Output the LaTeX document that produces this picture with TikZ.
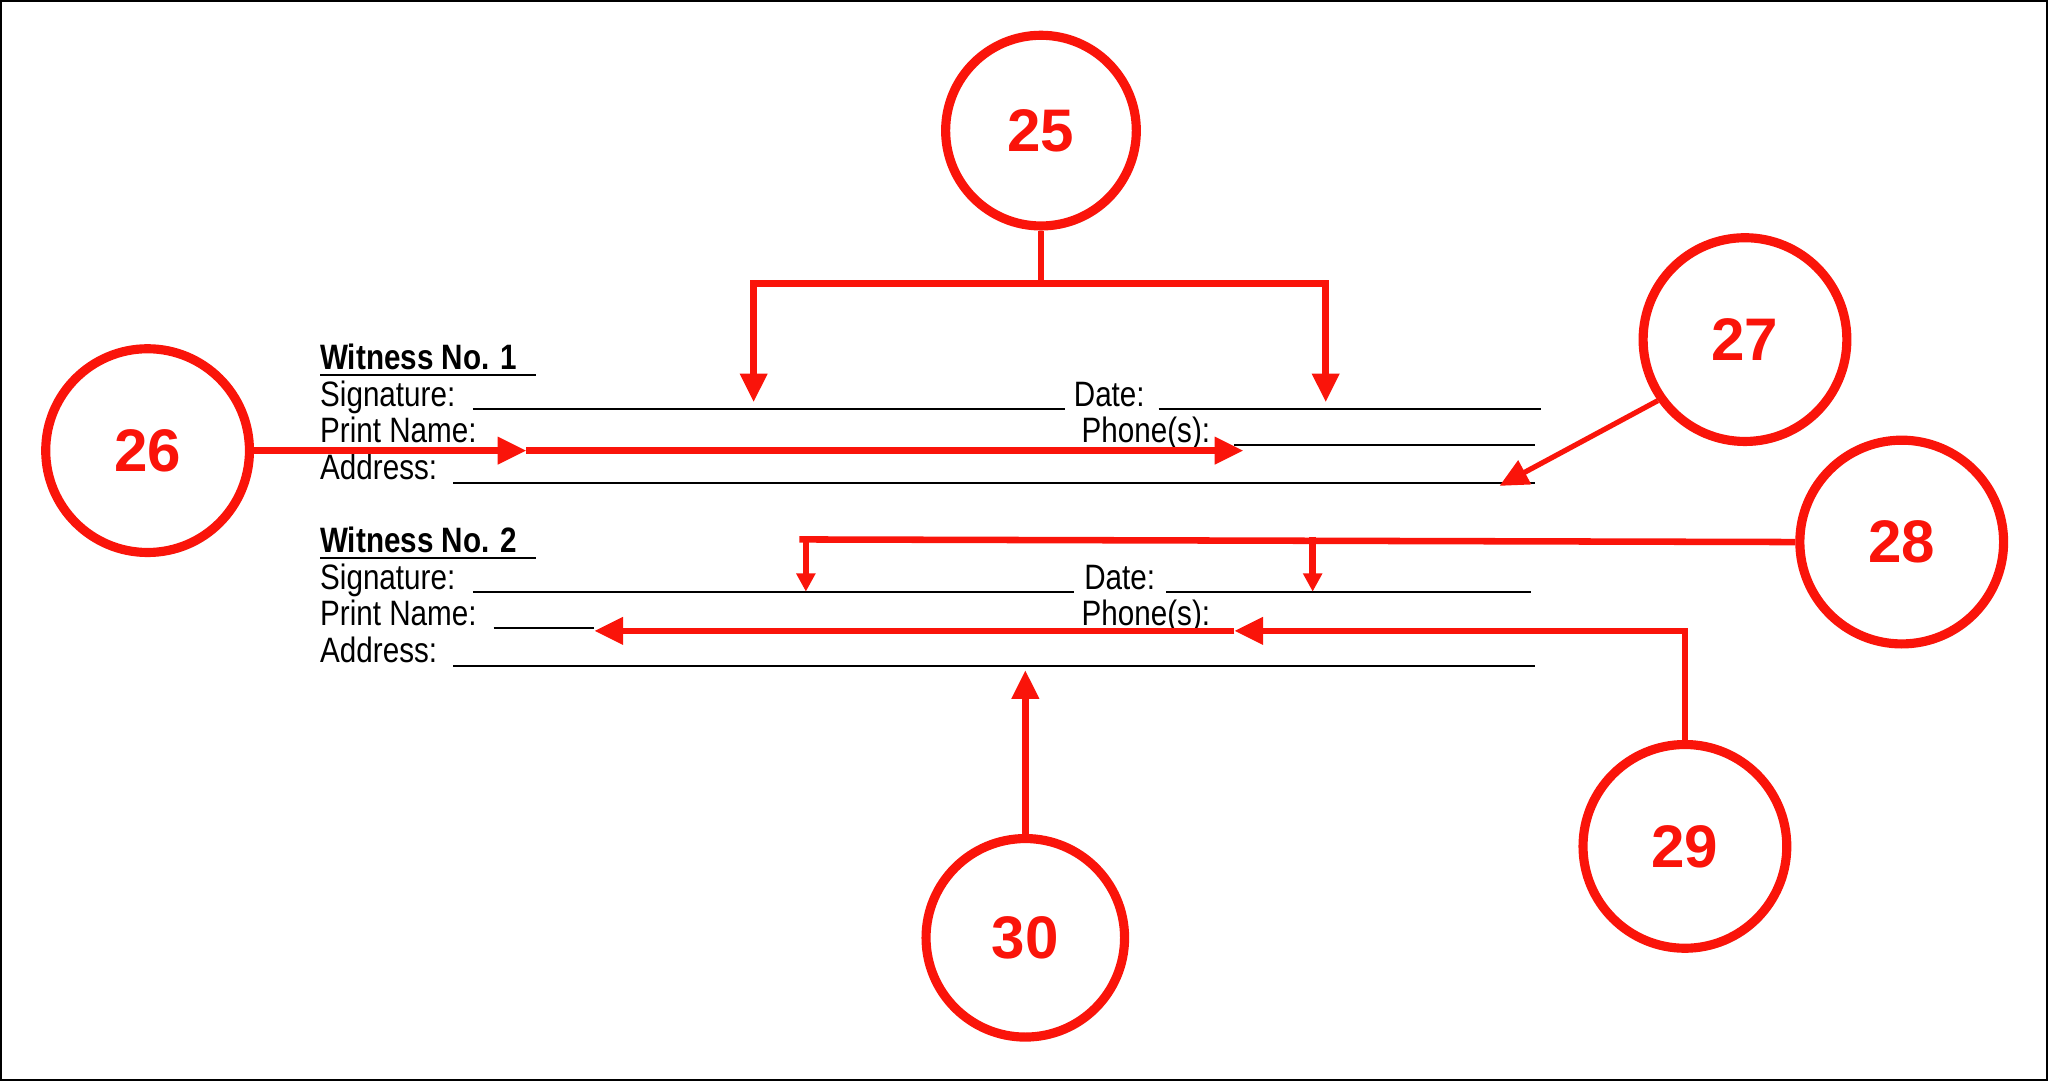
\documentclass[tikz,border=0pt]{standalone}
\usepackage{fontspec}
\setmainfont{Liberation Sans}
\usetikzlibrary{arrows.meta,shadows}
\definecolor{rd}{RGB}{250,20,10}
\begin{document}
\begin{tikzpicture}[x=1pt,y=-1pt,
  txt/.style={anchor=base west,inner sep=0pt,font=\fontsize{27}{27}\selectfont,xscale=0.84},
  bl/.style={black,line width=1.6pt},
  ar/.style={rd,line width=5pt},
  tip/.style={-{Triangle[length=22pt,width=20pt]}},
  num/.style={circle,draw=rd,line width=7pt,fill=white,text=rd,font=\fontsize{46}{46}\selectfont\bfseries,drop shadow={shadow xshift=2pt,shadow yshift=-3pt,opacity=0.4}}]
\useasboundingbox (0,0) rectangle (1568,828);
\draw[black,line width=1.5pt] (1,1) rectangle (1567,827);
% text
\node[txt,font=\fontsize{27}{27}\selectfont\bfseries] (w1) at (245,283) {Witness No. 1};
\draw[bl] (245,287) -- (410,287);
\node[txt] (s1) at (245,311) {Signature:};
\draw[bl] (362,313) -- (815,313);
\node[txt] (d1) at (822,311) {Date:};
\draw[bl] (887,313) -- (1180,313);
\node[txt] (p1) at (245,339) {Print Name:};
\node[txt] (ph1) at (828,339) {Phone(s):};
\draw[bl] (945,341) -- (1175,341);
\node[txt] (a1) at (245,367) {Address:};
\draw[bl] (347,370) -- (1175,370);
\node[txt,font=\fontsize{27}{27}\selectfont\bfseries] (w2) at (245,423) {Witness No. 2};
\draw[bl] (245,427) -- (410,427);
\node[txt] (s2) at (245,451) {Signature:};
\draw[bl] (362,453) -- (822,453);
\node[txt] (d2) at (830,451) {Date:};
\draw[bl] (893,453) -- (1172,453);
\node[txt] (p2) at (245,479) {Print Name:};
\draw[bl] (378,481) -- (455,481);
\node[txt] (ph2) at (828,479) {Phone(s):};
\node[txt] (a2) at (245,507) {Address:};
\draw[bl] (347,510) -- (1175,510);
% circles
\node[num,minimum size=146pt] (c25) at (797,100) {25};
\node[num,minimum size=156pt] (c26) at (113,345) {26};
\node[num,minimum size=156pt] (c27) at (1336,260) {27};
\node[num,minimum size=156pt] (c28) at (1456,415) {28};
\node[num,minimum size=156pt] (c29) at (1290,648) {29};
\node[num,minimum size=152pt] (c30) at (785,718) {30};
% arrows
\coordinate (t25a) at (577,308); \coordinate (t25b) at (1015,308);
\draw[ar] (c25.south) -- (797,217) coordinate (j25);
\draw[ar,tip] (j25) -| (t25a);
\draw[ar,tip] (j25) -| (t25b);
\coordinate (m26) at (403,345); \coordinate (t26) at (952,345);
\draw[ar,tip] (c26.east) -- (m26);
\draw[ar,tip] (m26) -- (t26);
\coordinate (t27) at (1148,372);
\draw[ar,tip,line width=4pt] (c27.-145) -- (t27);
\coordinate (l28) at (612,413); \coordinate (t28a) at (617,453); \coordinate (t28b) at (1005,453);
\draw[ar] (c28.west) -- (l28);
\draw[ar,-{Triangle[length=14pt,width=14pt]}] (617,411) -- (t28a);
\draw[ar,-{Triangle[length=14pt,width=14pt]}] (1005,411) -- (t28b);
\coordinate (m29) at (945,483); \coordinate (t29) at (455,483);
\draw[ar,tip] (c29.north) |- (m29);
\draw[ar,tip] (m29) -- (t29);
\coordinate (t30) at (785,513);
\draw[ar,tip] (c30.north) -- (t30);
\end{tikzpicture}
\end{document}
